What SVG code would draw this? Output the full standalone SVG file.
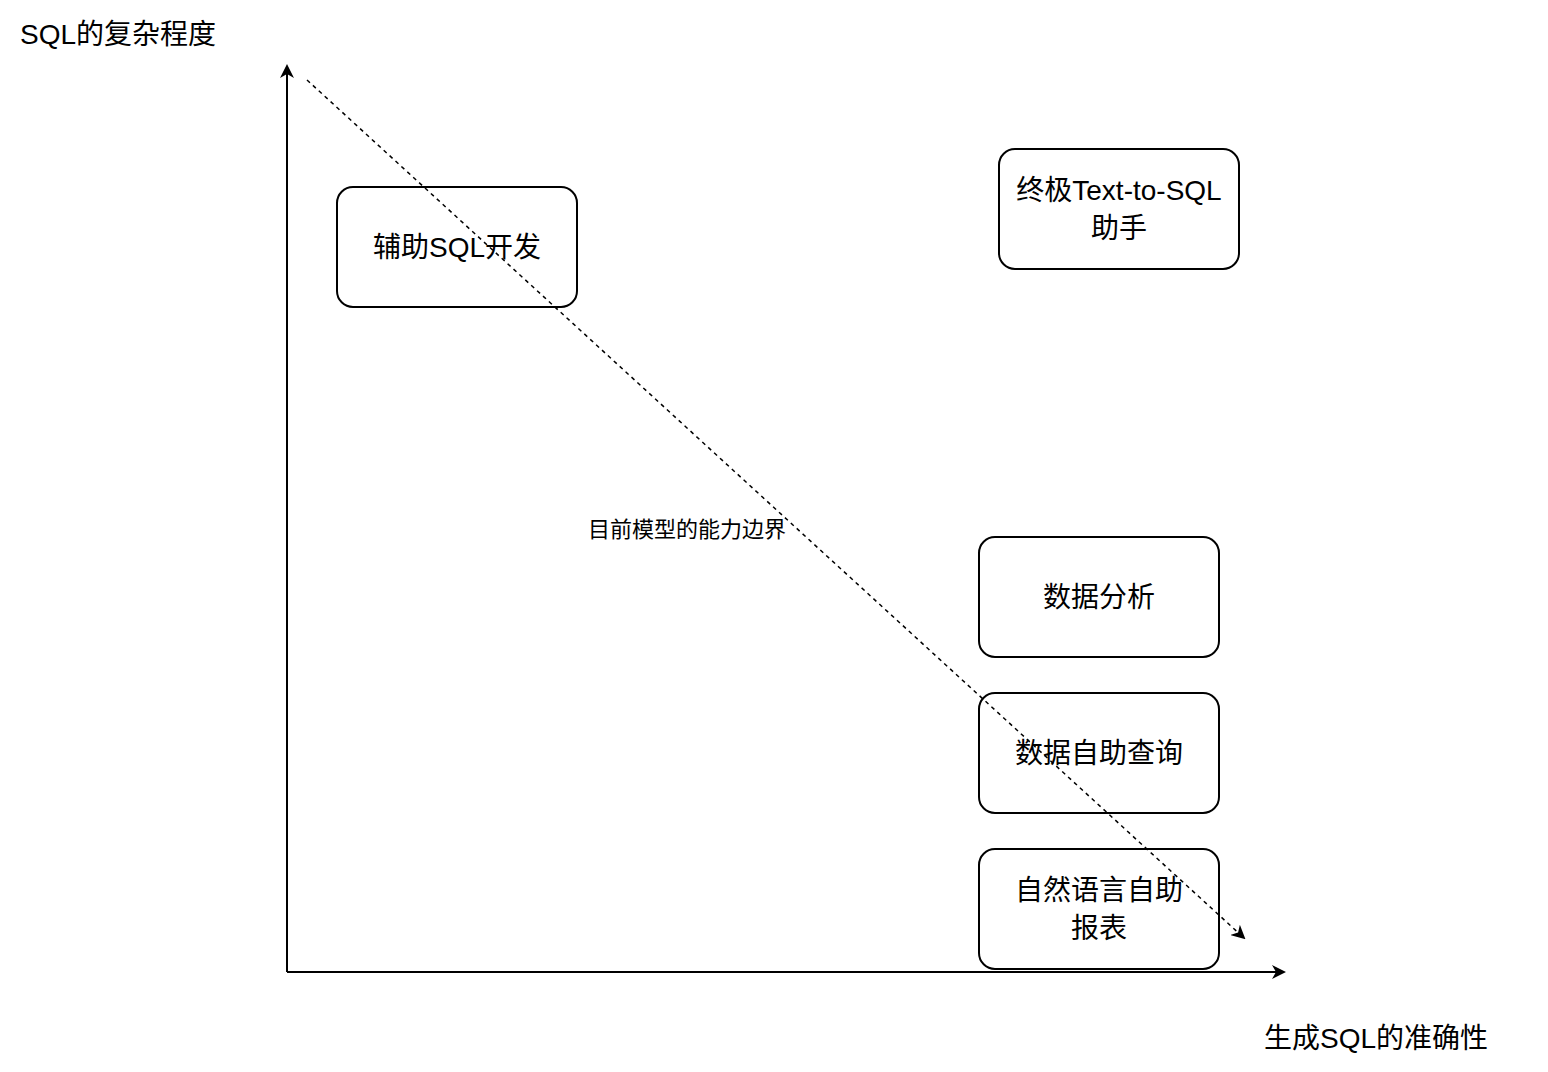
<svg xmlns="http://www.w3.org/2000/svg" width="1548" height="1072" viewBox="0 0 1548 1072">
<style>
text{font-family:"Liberation Sans","Noto Sans CJK SC",sans-serif;fill:#000}
.box{fill:#fff;stroke:#000;stroke-width:2}
.t{font-size:28px;text-anchor:middle}
</style>
<defs>
<marker id="a" markerWidth="10" markerHeight="10" refX="8" refY="5" orient="auto" markerUnits="userSpaceOnUse" viewBox="0 0 10 10"><path d="M0,0 L10,5 L0,10 L3,5 Z" fill="#000"/></marker>
<marker id="b" markerWidth="14" markerHeight="14" refX="12" refY="7" orient="auto" markerUnits="userSpaceOnUse" viewBox="0 0 14 14"><path d="M0,0 L14,7 L0,14 L4,7 Z" fill="#000"/></marker>
</defs>
<rect width="1548" height="1072" fill="#fff"/>
<g id="connectors">
<line x1="287" y1="972" x2="287" y2="66" stroke="#000" stroke-width="2" marker-end="url(#b)"/>
<line x1="287" y1="972" x2="1284" y2="972" stroke="#000" stroke-width="2" marker-end="url(#b)"/>
<line x1="307" y1="80" x2="1244" y2="938" stroke="#000" stroke-width="1.5" stroke-dasharray="4 4" marker-end="url(#b)"/>
<text x="687" y="537" font-size="22" text-anchor="middle">目前模型的能力边界</text>
</g>
<text x="20" y="44" font-size="28">SQL的复杂程度</text>
<text x="1264" y="1048" font-size="28">生成SQL的准确性</text>
<g id="n1"><rect class="box" x="337" y="187" width="240" height="120" rx="16" fill-opacity="0"/><text class="t" x="457" y="257">辅助SQL开发</text></g>
<g id="n2"><rect class="box" x="999" y="149" width="240" height="120" rx="16"/><text class="t" x="1119" y="200">终极Text-to-SQL</text><text class="t" x="1119" y="238">助手</text></g>
<g id="n3"><rect class="box" x="979" y="537" width="240" height="120" rx="16"/><text class="t" x="1099" y="607">数据分析</text></g>
<g id="n4"><rect class="box" x="979" y="693" width="240" height="120" rx="16" fill-opacity="0"/><text class="t" x="1099" y="763">数据自助查询</text></g>
<g id="n5"><rect class="box" x="979" y="849" width="240" height="120" rx="16" fill-opacity="0"/><text class="t" x="1099" y="900">自然语言自助</text><text class="t" x="1099" y="938">报表</text></g>
</svg>
